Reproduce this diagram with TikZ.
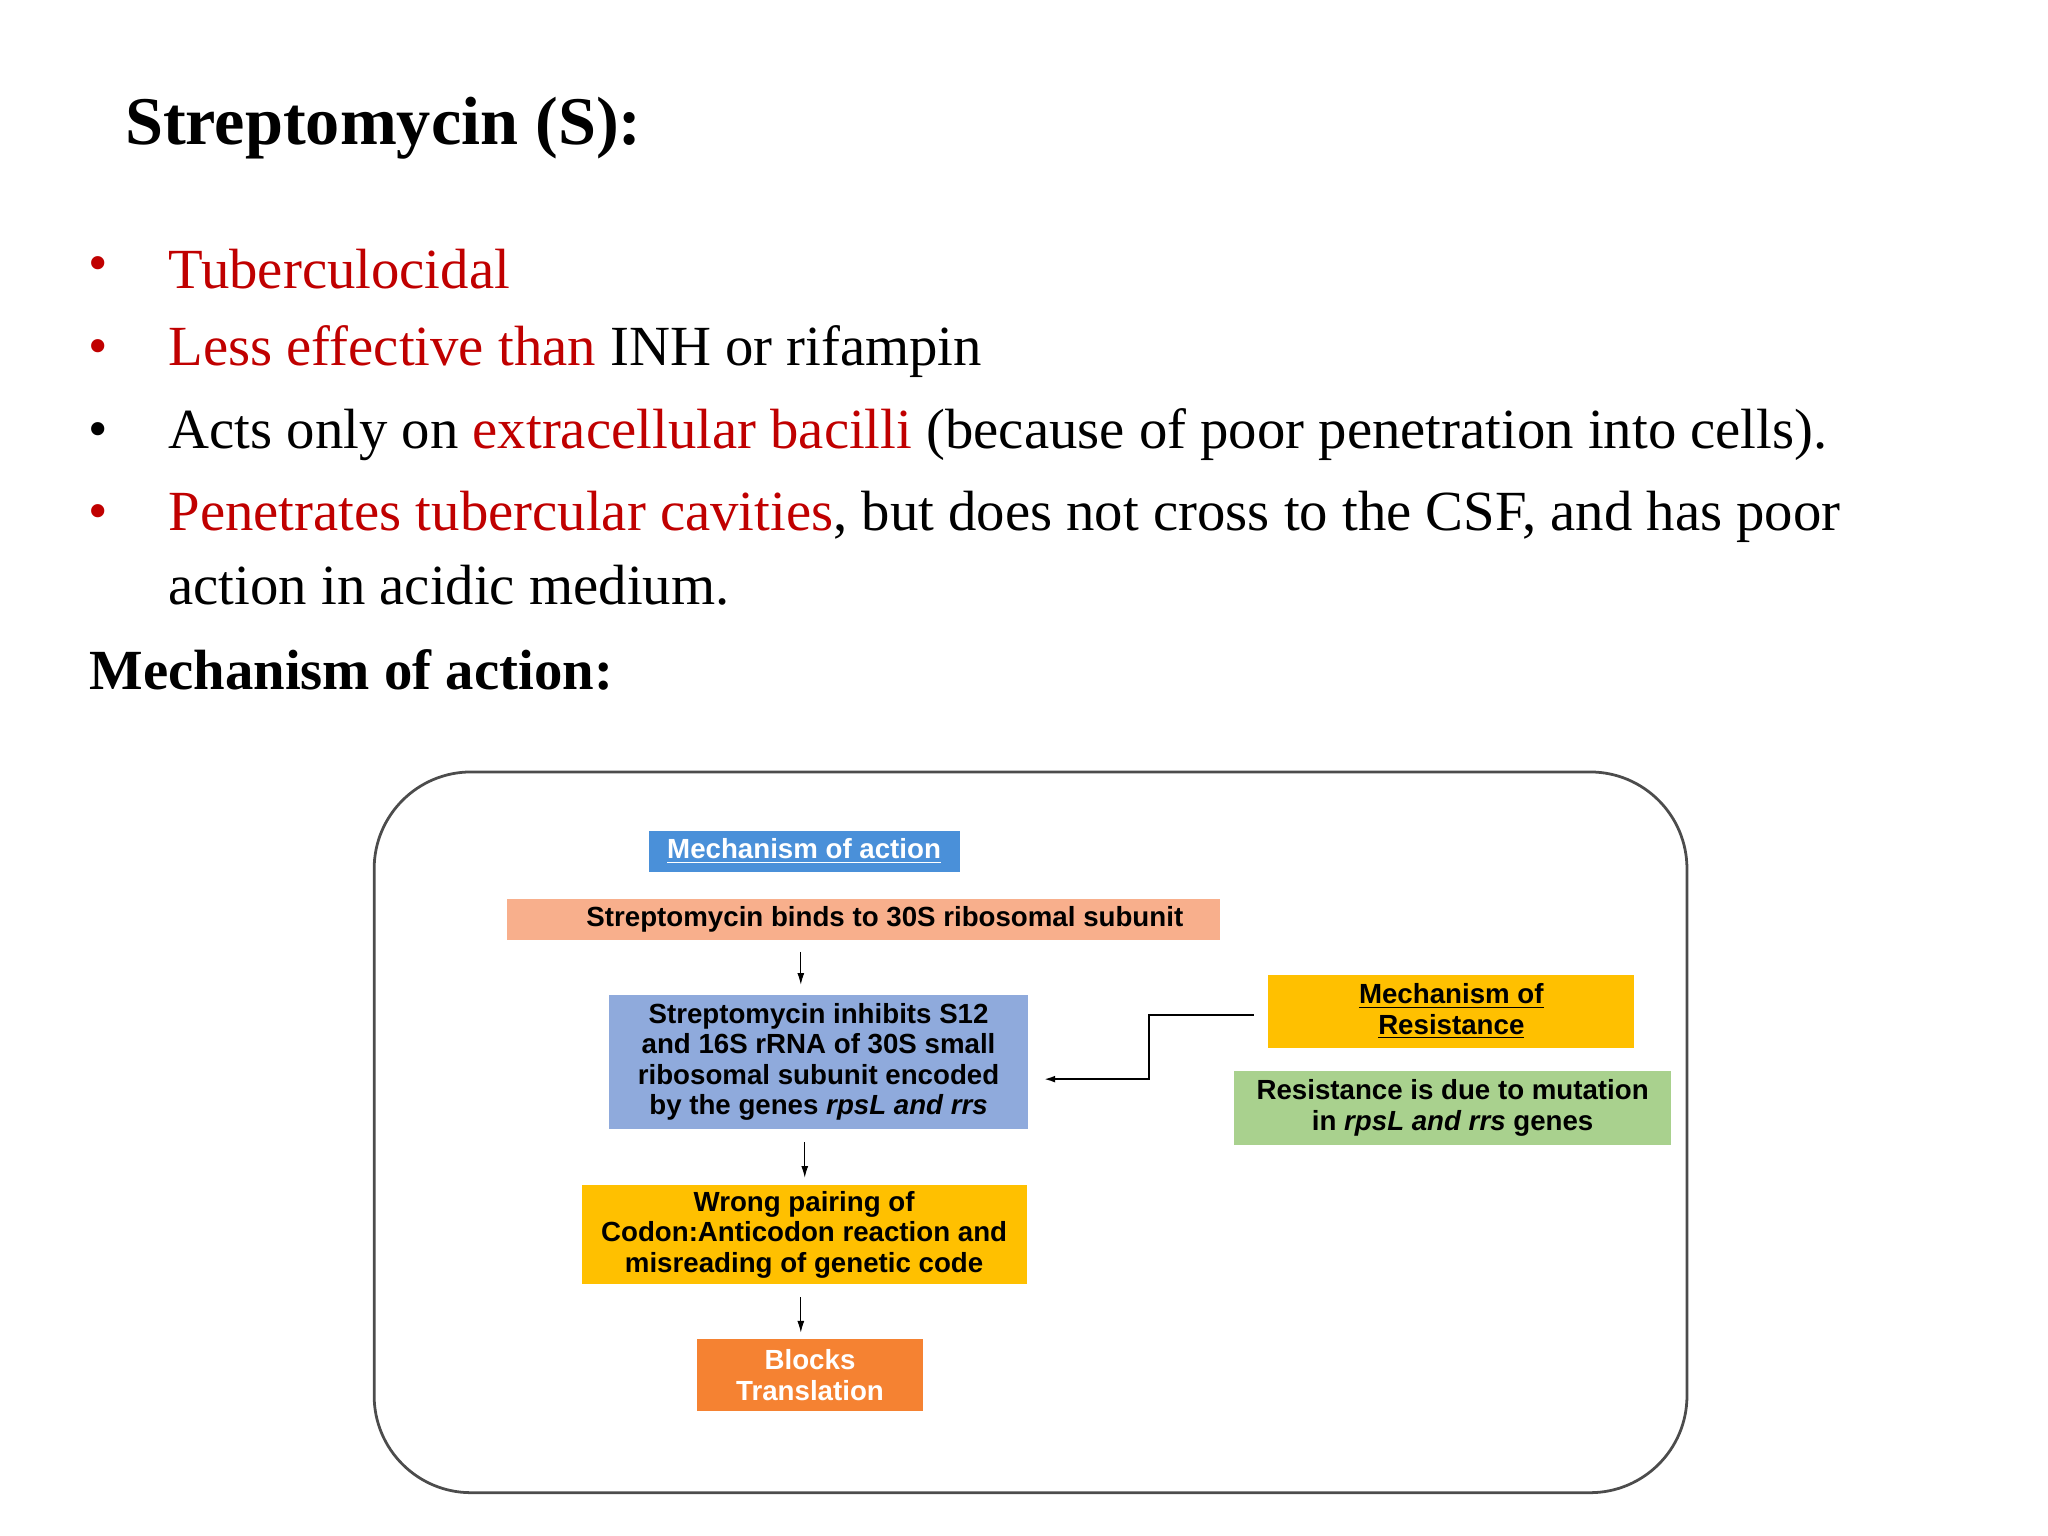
\documentclass[tikz,border=0pt]{standalone}
\usepackage{fontspec}
\setmainfont{Liberation Serif}
\newfontfamily\dg{Liberation Sans}
\begin{document}
\begin{tikzpicture}[x=0.02cm,y=-0.02cm,
  bl/.style={anchor=west,inner sep=0pt,font=\fontsize{24.6}{28}\selectfont},
  bx/.style={draw=none,font=\dg\bfseries\fontsize{12}{13.2}\selectfont,align=center,inner sep=0pt},
  ar/.style={-{Latex[length=5pt,width=3pt]},thin,black}]
\usetikzlibrary{arrows.meta}
\useasboundingbox (0,0) rectangle (1560,1170);
\definecolor{tred}{RGB}{192,0,0}
\node[anchor=west,inner sep=0pt,font=\bfseries\fontsize{29.6}{34}\selectfont] (title) at (95,98) {Streptomycin (S):};
\foreach \y/\c in {205/tred,268/tred,331/black,394/tred}{\node[text=\c,font=\fontsize{24}{28}\selectfont] at (75,\y) {\textbullet};}
\node[bl] (b1) at (128,205) {\color{tred}Tuberculocidal};
\node[bl] (b2) at (128,268) {\color{tred}Less effective than \color{black}INH or rifampin};
\node[bl] (b3) at (128,331) {Acts only on \textcolor{tred}{extracellular bacilli} (because of poor penetration into cells).};
\node[bl] (b4) at (128,394) {\textcolor{tred}{Penetrates tubercular cavities}, but does not cross to the CSF, and has poor};
\node[bl] (b5) at (128,446) {action in acidic medium.};
\node[anchor=west,inner sep=0pt,font=\bfseries\fontsize{24.6}{28}\selectfont] (moa) at (68,510) {Mechanism of action:};
\draw[line width=1.2pt,rounded corners=42pt,gray!60!black] (285,588) rectangle (1285,1137);
\path[fill={rgb,255:red,74;green,144;blue,217}] (494,633) rectangle (731,664);
\node[bx,text=white] (h) at (612.5,648.5) {\underline{Mechanism of action}};
\path[fill={rgb,255:red,248;green,175;blue,140}] (386,685) rectangle (929,716);
\node[bx] (s1) at (674,700.5) {Streptomycin binds to 30S ribosomal subunit};
\path[fill={rgb,255:red,143;green,170;blue,220}] (464,758) rectangle (783,860);
\node[bx] (s2) at (623.5,809) {Streptomycin inhibits S12\\and 16S rRNA of 30S small\\ribosomal subunit encoded\\by the genes \textit{rpsL and  rrs}};
\path[fill={rgb,255:red,255;green,192;blue,0}] (443,903) rectangle (782,978);
\node[bx] (s3) at (612.5,940.5) {Wrong pairing of\\Codon:Anticodon reaction and\\misreading of genetic code};
\path[fill={rgb,255:red,245;green,130;blue,50}] (531,1020) rectangle (703,1075);
\node[bx,text=white] (s4) at (617,1047.5) {Blocks\\Translation};
\path[fill={rgb,255:red,255;green,192;blue,0}] (966,743) rectangle (1245,798);
\node[bx] (r1) at (1105.5,770.5) {\underline{Mechanism of}\\\underline{Resistance}};
\path[fill={rgb,255:red,169;green,209;blue,142}] (940,816) rectangle (1273,872);
\node[bx] (r2) at (1106.5,844) {Resistance is due to mutation\\in \textit{rpsL and rrs} genes};
\coordinate (a1) at (610,725); \coordinate (a2) at (610,750);
\coordinate (a3) at (613,870); \coordinate (a4) at (613,897);
\coordinate (a5) at (610,988); \coordinate (a6) at (610,1015);
\draw[ar] (a1) -- (a2); \draw[ar] (a3) -- (a4); \draw[ar] (a5) -- (a6);
\coordinate (c1) at (955,773); \coordinate (c2) at (795,822);
\draw[ar,line width=0.9pt] (c1) -- (875,773) -- (875,822) -- (c2);
\end{tikzpicture}
\end{document}
